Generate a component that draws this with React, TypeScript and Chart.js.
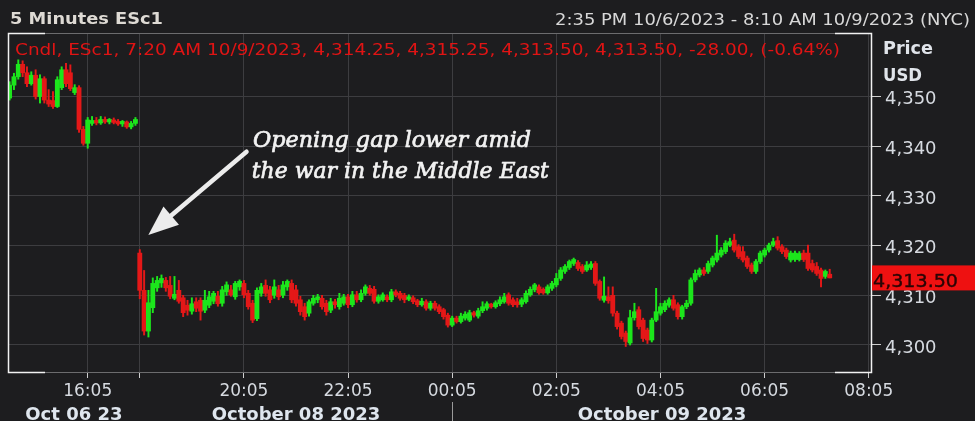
import React, { useEffect, useRef } from "react";
import { Chart, registerables } from "chart.js";

Chart.register(...registerables);

// ---------- data (5-minute ESc1 candles, slot index = position on the compressed time axis) ----------
// Fri Oct 6: slots 0..29 (14:35 .. 17:00), Sun/Mon Oct 8-9: slots 30..189 (18:05 .. 07:20)
const opens: number[] = [
  4349.7, 4352.3, 4354.0, 4356.5, 4354.8, 4352.6, 4354.3, 4350.0, 4353.6, 4349.3,
  4349.2, 4348.0, 4351.8, 4355.4, 4354.8, 4350.8, 4351.8, 4343.4, 4340.6, 4344.6,
  4345.2, 4344.7, 4345.4, 4344.9, 4345.3, 4344.8, 4344.5, 4344.9, 4343.9, 4344.6,
  4318.5, 4311.0, 4302.8, 4307.5, 4311.5, 4312.5, 4313.0, 4312.0, 4309.4, 4311.0,
  4309.5, 4308.0, 4306.8, 4308.7, 4309.0, 4307.0, 4308.0, 4308.8, 4309.8, 4308.4,
  4310.7, 4311.1, 4309.7, 4311.7, 4312.4, 4310.4, 4308.4, 4305.3, 4310.4, 4312.0,
  4311.1, 4310.0, 4311.1, 4310.0, 4311.7, 4312.4, 4311.1, 4309.1, 4307.7, 4306.4,
  4308.4, 4309.1, 4309.4, 4308.4, 4307.0, 4308.7, 4307.7, 4308.4, 4309.7, 4308.1,
  4310.1, 4309.1, 4310.4, 4311.4, 4311.2, 4308.8, 4309.1, 4309.7, 4309.1, 4310.7,
  4310.4, 4310.0, 4309.2, 4309.5, 4308.9, 4308.1, 4308.7, 4307.4, 4308.4, 4307.7,
  4307.1, 4306.0, 4304.0, 4305.4, 4304.7, 4305.4, 4305.0, 4306.5, 4305.8, 4306.9,
  4307.4, 4308.1, 4307.7, 4308.3, 4308.7, 4310.1, 4309.1, 4308.7, 4308.2, 4308.7,
  4310.1, 4311.1, 4311.7, 4311.2, 4310.5, 4311.4, 4312.1, 4313.4, 4314.8, 4315.6,
  4316.4, 4316.6, 4315.8, 4315.1, 4315.6, 4316.4, 4312.8, 4309.0, 4309.7, 4310.0,
  4306.4, 4304.4, 4302.4, 4300.4, 4305.5, 4307.1, 4305.0, 4303.0, 4301.0, 4305.0,
  4306.4, 4307.1, 4308.0, 4309.1, 4308.1, 4305.7, 4307.7, 4308.4, 4313.1, 4314.1,
  4315.1, 4314.8, 4316.1, 4317.1, 4318.1, 4318.8, 4320.1, 4321.1, 4319.8, 4318.8,
  4317.5, 4316.1, 4314.8, 4316.8, 4318.1, 4319.1, 4320.1, 4321.0, 4319.8, 4319.1,
  4317.1, 4317.2, 4317.2, 4318.5, 4318.5, 4316.4, 4315.8, 4315.1, 4313.8, 4314.25,
];
const highs: number[] = [
  4353.0, 4354.7, 4357.4, 4357.2, 4356.0, 4355.0, 4355.4, 4354.4, 4354.0, 4351.4,
  4351.0, 4354.0, 4356.0, 4356.7, 4356.4, 4352.4, 4352.2, 4344.0, 4345.8, 4346.0,
  4345.8, 4346.0, 4345.9, 4345.6, 4345.7, 4345.4, 4345.2, 4345.1, 4345.0, 4345.8,
  4319.2, 4315.0, 4311.0, 4313.5, 4313.8, 4314.1, 4313.6, 4313.8, 4313.8, 4313.0,
  4310.0, 4309.0, 4309.5, 4309.5, 4309.5, 4311.0, 4310.8, 4310.8, 4310.8, 4311.8,
  4312.7, 4312.0, 4312.8, 4313.1, 4313.0, 4311.0, 4309.0, 4311.5, 4312.4, 4313.1,
  4311.8, 4313.1, 4312.0, 4312.8, 4313.1, 4313.1, 4312.0, 4309.8, 4308.4, 4309.1,
  4310.0, 4310.2, 4310.0, 4309.0, 4309.4, 4309.2, 4310.4, 4310.2, 4310.2, 4310.8,
  4310.8, 4311.1, 4312.1, 4312.0, 4311.8, 4310.1, 4310.5, 4310.1, 4311.2, 4311.1,
  4310.8, 4310.4, 4310.1, 4309.9, 4309.2, 4309.4, 4309.1, 4308.8, 4308.8, 4308.1,
  4307.4, 4306.4, 4305.8, 4305.8, 4306.4, 4306.7, 4307.0, 4306.8, 4307.4, 4308.7,
  4308.7, 4308.4, 4308.9, 4309.7, 4310.4, 4310.5, 4309.5, 4309.4, 4309.5, 4310.9,
  4311.7, 4312.4, 4312.1, 4311.5, 4312.1, 4312.8, 4314.4, 4315.6, 4316.2, 4317.1,
  4317.5, 4317.0, 4316.2, 4316.8, 4316.8, 4316.8, 4313.1, 4313.7, 4311.7, 4311.7,
  4306.8, 4304.8, 4302.8, 4307.0, 4308.4, 4307.7, 4305.4, 4303.4, 4305.4, 4311.4,
  4308.4, 4308.9, 4309.5, 4310.0, 4308.5, 4308.0, 4309.0, 4313.5, 4315.1, 4315.5,
  4315.6, 4316.9, 4317.9, 4322.1, 4319.6, 4321.0, 4321.5, 4322.3, 4320.2, 4319.8,
  4317.9, 4316.5, 4317.2, 4318.9, 4319.5, 4320.5, 4321.5, 4321.8, 4320.2, 4319.5,
  4318.9, 4318.9, 4318.8, 4319.1, 4320.1, 4317.1, 4316.6, 4315.5, 4315.1, 4315.25,
];
const lows: number[] = [
  4349.3, 4351.4, 4353.5, 4354.0, 4352.0, 4352.3, 4349.5, 4348.7, 4348.7, 4348.0,
  4347.6, 4347.8, 4351.4, 4352.0, 4351.2, 4350.4, 4342.8, 4340.2, 4339.6, 4344.2,
  4344.3, 4344.4, 4344.6, 4344.5, 4344.5, 4344.2, 4344.0, 4343.6, 4343.5, 4344.2,
  4309.3, 4302.0, 4301.6, 4306.5, 4310.8, 4311.6, 4310.8, 4309.3, 4309.1, 4308.4,
  4305.7, 4306.0, 4306.2, 4306.7, 4305.0, 4306.5, 4307.5, 4308.3, 4307.8, 4307.8,
  4310.0, 4309.8, 4309.2, 4311.0, 4309.5, 4307.2, 4304.5, 4304.9, 4309.8, 4309.8,
  4308.5, 4309.4, 4309.1, 4309.5, 4311.0, 4308.5, 4307.8, 4306.0, 4305.0, 4305.8,
  4308.0, 4308.5, 4307.2, 4306.0, 4306.5, 4307.4, 4307.2, 4308.0, 4307.5, 4307.7,
  4308.6, 4308.7, 4310.0, 4310.0, 4308.4, 4308.4, 4308.8, 4308.7, 4308.7, 4309.7,
  4309.0, 4308.5, 4308.9, 4308.3, 4307.7, 4307.8, 4307.0, 4307.0, 4307.0, 4306.3,
  4305.2, 4303.6, 4303.7, 4304.4, 4304.4, 4305.0, 4304.7, 4305.6, 4305.4, 4306.5,
  4307.0, 4307.4, 4307.4, 4307.9, 4308.4, 4308.0, 4307.7, 4307.6, 4307.7, 4308.4,
  4309.8, 4310.7, 4310.2, 4310.2, 4310.2, 4311.0, 4311.7, 4313.0, 4314.4, 4315.2,
  4316.0, 4315.0, 4314.4, 4314.8, 4315.2, 4312.0, 4309.0, 4308.6, 4308.4, 4305.8,
  4303.2, 4301.2, 4299.7, 4300.0, 4305.0, 4303.2, 4300.7, 4300.3, 4300.6, 4304.7,
  4306.0, 4306.7, 4307.6, 4307.0, 4305.2, 4305.2, 4307.3, 4308.0, 4312.7, 4313.7,
  4314.0, 4314.4, 4315.7, 4316.7, 4317.7, 4318.4, 4319.8, 4318.7, 4317.4, 4316.7,
  4315.4, 4314.4, 4314.4, 4316.4, 4317.7, 4318.7, 4319.8, 4319.1, 4318.4, 4317.4,
  4316.7, 4316.8, 4316.9, 4316.8, 4315.0, 4314.7, 4314.0, 4311.7, 4313.4, 4313.5,
];
const closes: number[] = [
  4352.3, 4354.0, 4356.5, 4354.8, 4352.6, 4354.3, 4350.0, 4353.6, 4349.3, 4348.5,
  4348.0, 4353.4, 4355.4, 4352.6, 4351.6, 4351.8, 4343.4, 4340.6, 4345.3, 4345.2,
  4344.7, 4345.4, 4344.9, 4345.3, 4344.8, 4344.5, 4344.9, 4343.9, 4344.6, 4345.4,
  4311.0, 4302.8, 4308.5, 4312.4, 4313.0, 4313.4, 4311.5, 4309.8, 4310.2, 4308.8,
  4306.5, 4307.0, 4308.3, 4307.4, 4306.8, 4309.0, 4309.7, 4310.4, 4308.3, 4311.1,
  4312.1, 4310.1, 4312.4, 4312.8, 4310.1, 4307.7, 4305.0, 4311.0, 4311.7, 4310.4,
  4309.1, 4311.7, 4309.7, 4312.1, 4312.8, 4309.1, 4308.4, 4306.7, 4305.7, 4308.7,
  4309.4, 4309.7, 4307.7, 4306.7, 4308.7, 4308.1, 4309.4, 4309.7, 4308.1, 4310.1,
  4309.1, 4310.4, 4311.7, 4310.4, 4308.8, 4309.7, 4310.1, 4309.1, 4310.7, 4310.1,
  4309.4, 4309.1, 4309.7, 4308.7, 4308.1, 4308.8, 4307.4, 4308.4, 4307.4, 4306.7,
  4305.7, 4304.0, 4305.4, 4304.7, 4305.8, 4306.2, 4306.5, 4306.0, 4306.9, 4307.7,
  4308.3, 4307.7, 4308.5, 4309.1, 4309.7, 4308.4, 4308.1, 4308.1, 4309.1, 4310.4,
  4311.2, 4312.1, 4310.5, 4310.5, 4311.7, 4312.4, 4313.4, 4315.1, 4315.8, 4316.8,
  4317.2, 4315.4, 4314.8, 4316.1, 4316.3, 4312.4, 4309.4, 4309.8, 4308.9, 4306.4,
  4303.7, 4301.7, 4300.7, 4305.5, 4306.7, 4303.7, 4301.3, 4301.0, 4305.0, 4306.7,
  4307.7, 4308.4, 4309.1, 4307.4, 4305.7, 4307.7, 4308.4, 4313.1, 4314.4, 4315.1,
  4314.4, 4316.4, 4317.5, 4318.5, 4319.1, 4320.5, 4320.8, 4319.1, 4317.8, 4317.1,
  4315.8, 4314.8, 4316.8, 4318.5, 4319.1, 4320.1, 4320.8, 4319.5, 4318.8, 4317.8,
  4318.5, 4318.5, 4318.4, 4317.2, 4315.4, 4315.1, 4314.4, 4313.4, 4314.8, 4313.5,
];

// axis ticks
const timeTickSlots: number[] = [18, 30, 54, 78, 102, 126, 150, 174, 198];
const timeTickLabels: string[] = ["16:05", "", "20:05", "22:05", "00:05", "02:05", "04:05", "06:05", "08:05"];
const priceTicks: number[] = [4300, 4310, 4320, 4330, 4340, 4350];
const priceTickLabels: string[] = ["4,300", "4,310", "4,320", "4,330", "4,340", "4,350"];
const dayLabels: string[] = ["Oct 06 23", "October 08 2023", "October 09 2023"];
const dayBreakSlots: number[] = [30, 102];
const slotRange: number[] = [-0.37, 198.75];
const priceRange: number[] = [4294.56, 4362.6];

// texts
const titleText = "5 Minutes ESc1";
const rangeText = "2:35 PM 10/6/2023 - 8:10 AM 10/9/2023 (NYC)";
const infoText = "Cndl, ESc1, 7:20 AM 10/9/2023, 4,314.25, 4,315.25, 4,313.50, 4,313.50, -28.00, (-0.64%)";
const axisTitle: string[] = ["Price", "USD"];
const lastPriceLabel = "4,313.50";
const annotationLines: string[] = ["Opening gap lower amid", "the war in the Middle East"];
const annotationLineAnchors: number[][] = [[56.1, 4339.93], [55.8, 4333.57]]; // [slot, price]
const arrowFrom: number[] = [54.6, 4338.9];
const arrowTo: number[] = [31.97, 4322.15];

// ---------- style ----------
const W = 975;
const H = 421;
const BG = "#1d1d1f";
const UP = "#1ce61c";
const DOWN = "#e41818";
const GRID = "#3d3d40";
const TXT = "#d6dae0";
const FONT = "'DejaVu Sans', Verdana, sans-serif";

function drawText(
  ctx: CanvasRenderingContext2D,
  text: string,
  x: number,
  y: number,
  font: string,
  color: string,
  targetW: number | null,
  align: "left" | "center" | "right" = "left",
  strokeW = 0
) {
  ctx.save();
  ctx.font = font;
  ctx.fillStyle = color;
  ctx.strokeStyle = color;
  ctx.textBaseline = "alphabetic";
  ctx.textAlign = "left";
  const w = ctx.measureText(text).width;
  const sx = targetW ? targetW / w : 1;
  const tw = w * sx;
  const left = align === "left" ? x : align === "center" ? x - tw / 2 : x - tw;
  ctx.translate(left, y);
  ctx.scale(sx, 1);
  ctx.fillText(text, 0, 0);
  if (strokeW > 0) {
    ctx.lineWidth = strokeW;
    ctx.lineJoin = "round";
    ctx.strokeText(text, 0, 0);
  }
  ctx.restore();
}

const decorPlugin = {
  id: "decor",
  beforeDraw(chart: any) {
    const ctx: CanvasRenderingContext2D = chart.ctx;
    ctx.save();
    ctx.fillStyle = BG;
    ctx.fillRect(0, 0, chart.width, chart.height);
    ctx.restore();
  },
  afterDraw(chart: any) {
    const ctx: CanvasRenderingContext2D = chart.ctx;
    const a = chart.chartArea;
    const xs = chart.scales.x;
    const ys = chart.scales.y;

    // frame
    ctx.save();
    ctx.lineWidth = 1;
    ctx.strokeStyle = "#6c6c6e";
    ctx.beginPath();
    ctx.moveTo(a.left, a.top - 0.5);
    ctx.lineTo(a.right, a.top - 0.5);
    ctx.moveTo(a.left, a.bottom + 0.5);
    ctx.lineTo(a.right, a.bottom + 0.5);
    ctx.stroke();
    ctx.strokeStyle = "#f2f2f2";
    ctx.lineWidth = 1.5;
    ctx.beginPath();
    ctx.moveTo(a.left + 37, a.top - 0.5);
    ctx.lineTo(a.left + 0.5, a.top - 0.5);
    ctx.lineTo(a.left + 0.5, a.bottom + 0.5);
    ctx.lineTo(a.left + 37, a.bottom + 0.5);
    ctx.moveTo(a.right - 37, a.top - 0.5);
    ctx.lineTo(a.right - 0.5, a.top - 0.5);
    ctx.lineTo(a.right - 0.5, a.bottom + 0.5);
    ctx.lineTo(a.right - 37, a.bottom + 0.5);
    ctx.stroke();
    ctx.restore();

    // header texts
    drawText(ctx, titleText, 10, 24, `bold 16px ${FONT}`, "#dedad4", 153);
    drawText(ctx, rangeText, 970, 25, `16px ${FONT}`, "#d8d8d8", 415, "right");
    drawText(ctx, infoText, 15, 55, `15px ${FONT}`, "#e01414", 825);
    drawText(ctx, axisTitle[0], a.right + 11, 54, `bold 17px ${FONT}`, "#e0e4ea", 50);
    drawText(ctx, axisTitle[1], a.right + 11, 81, `bold 17px ${FONT}`, "#e0e4ea", 39);

    // last price box
    const lp = ys.getPixelForValue(closes[closes.length - 1]);
    ctx.save();
    ctx.fillStyle = "#ee1111";
    ctx.fillRect(a.right, lp - 12.5, W - a.right, 25);
    ctx.restore();
    drawText(ctx, lastPriceLabel, a.right + 1, lp + 9, `18px ${FONT}`, "#2a0505", 85, "left", 0.4);

    // day labels and separator
    const bounds = [slotRange[0], ...dayBreakSlots, slotRange[1]];
    for (let i = 0; i < dayLabels.length; i++) {
      const cx = (xs.getPixelForValue(bounds[i]) + xs.getPixelForValue(bounds[i + 1])) / 2;
      drawText(ctx, dayLabels[i], cx, 420, `bold 18px ${FONT}`, "#dfe6ee", null, "center");
    }
    const sepX = Math.round(xs.getPixelForValue(dayBreakSlots[1])) + 0.5;
    ctx.save();
    ctx.strokeStyle = "#9a9a9a";
    ctx.lineWidth = 1;
    ctx.beginPath();
    ctx.moveTo(sepX, 402);
    ctx.lineTo(sepX, H);
    ctx.stroke();
    ctx.restore();

    // annotation arrow
    const x1 = xs.getPixelForValue(arrowFrom[0]);
    const y1 = ys.getPixelForValue(arrowFrom[1]);
    const x2 = xs.getPixelForValue(arrowTo[0]);
    const y2 = ys.getPixelForValue(arrowTo[1]);
    const ang = Math.atan2(y2 - y1, x2 - x1);
    const headLen = 30;
    const headHalf = 12;
    const bx = x2 - headLen * Math.cos(ang);
    const by = y2 - headLen * Math.sin(ang);
    ctx.save();
    ctx.strokeStyle = "#ececec";
    ctx.fillStyle = "#ececec";
    ctx.lineWidth = 4.5;
    ctx.lineCap = "round";
    ctx.beginPath();
    ctx.moveTo(x1, y1);
    ctx.lineTo(bx, by);
    ctx.stroke();
    ctx.beginPath();
    ctx.moveTo(x2, y2);
    ctx.lineTo(bx + headHalf * Math.sin(ang), by - headHalf * Math.cos(ang));
    ctx.lineTo(bx - headHalf * Math.sin(ang), by + headHalf * Math.cos(ang));
    ctx.closePath();
    ctx.fill();
    ctx.restore();

    const annW = [278, 297];
    annotationLines.forEach((t, i) => {
      const ax = xs.getPixelForValue(annotationLineAnchors[i][0]);
      const ay = ys.getPixelForValue(annotationLineAnchors[i][1]);
      drawText(ctx, t, ax, ay, `italic 23px 'DejaVu Serif', serif`, "#f2f2f2", annW[i], "left", 0.7);
    });
  },
};

export default function App() {
  const ref = useRef<HTMLCanvasElement>(null);

  useEffect(() => {
    const canvas = ref.current;
    if (!canvas) return;
    const colorFor = (c: any) => {
      const i = c.dataIndex;
      return closes[i] >= opens[i] ? UP : DOWN;
    };
    const chart = new Chart(canvas, {
      type: "bar",
      data: {
        datasets: [
          {
            label: "wick",
            data: opens.map((_, i) => ({ x: i, y: [lows[i], highs[i]] })) as any,
            backgroundColor: colorFor as any,
            borderWidth: 0,
            barThickness: 1.3,
            grouped: false,
          } as any,
          {
            label: "body",
            data: opens.map((o, i) => ({ x: i, y: [o, closes[i]] })) as any,
            backgroundColor: colorFor as any,
            borderWidth: 0,
            barThickness: 4.2,
            minBarLength: 2.5,
            grouped: false,
          } as any,
        ],
      },
      options: {
        responsive: false,
        animation: false,
        devicePixelRatio: 1,
        layout: { padding: { left: 8, top: 34, right: 0, bottom: 0 } },
        plugins: { legend: { display: false }, tooltip: { enabled: false } },
        scales: {
          x: {
            type: "linear",
            min: slotRange[0],
            max: slotRange[1],
            offset: false,
            grid: { color: GRID, offset: false, tickLength: 6, tickColor: "#cfcfcf", drawOnChartArea: true },
            border: { display: false },
            afterFit: (s: any) => {
              s.height = 49;
            },
            afterBuildTicks: (s: any) => {
              s.ticks = timeTickSlots.map((v) => ({ value: v }));
            },
            ticks: {
              autoSkip: false,
              maxRotation: 0,
              minRotation: 0,
              padding: 3,
              color: TXT,
              font: { family: FONT, size: 17 },
              callback: (_v: any, idx: number) => timeTickLabels[idx],
            },
          } as any,
          y: {
            type: "linear",
            position: "right",
            min: priceRange[0],
            max: priceRange[1],
            grid: { color: GRID, tickLength: 9, tickColor: "#cfcfcf" },
            border: { display: false },
            afterFit: (s: any) => {
              s.width = W - 872;
            },
            afterBuildTicks: (s: any) => {
              s.ticks = priceTicks.map((v) => ({ value: v }));
            },
            ticks: {
              padding: 4,
              labelOffset: 3,
              color: TXT,
              font: { family: FONT, size: 18 },
              callback: (_v: any, idx: number) => priceTickLabels[idx],
            },
          } as any,
        },
      },
      plugins: [decorPlugin],
    });
    return () => chart.destroy();
  }, []);

  return (
    <div style={{ position: "fixed", left: 0, top: 0, width: W, height: H, background: BG, overflow: "hidden" }}>
      <canvas ref={ref} width={W} height={H} style={{ display: "block", width: W, height: H }} />
    </div>
  );
}
